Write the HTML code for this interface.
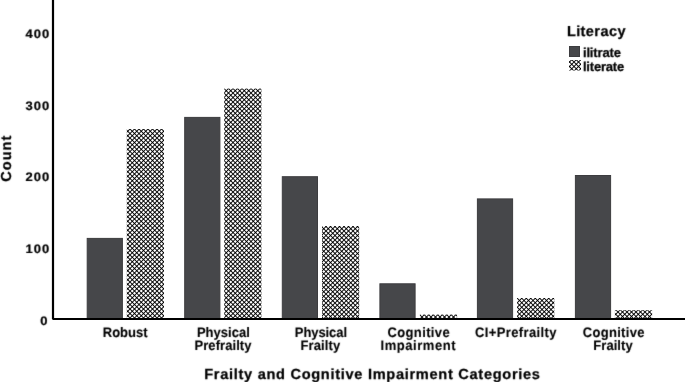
<!DOCTYPE html>
<html><head><meta charset="utf-8">
<style>
html,body{margin:0;padding:0;background:#fff;width:685px;height:382px;overflow:hidden}
svg{display:block}
text{font-family:"Liberation Sans",Arial,Helvetica,sans-serif;font-weight:bold;fill:#000;stroke:#000;text-rendering:geometricPrecision;stroke-width:0.25px}
</style></head>
<body>
<svg width="685" height="382" viewBox="0 0 685 382">
<defs>
</defs>
<g fill="#46474a" stroke="#3c3c3f" stroke-width="1">
<rect x="87.20" y="238.40" width="35.20" height="80.10"/>
<rect x="184.70" y="117.40" width="35.20" height="201.10"/>
<rect x="282.30" y="176.70" width="35.20" height="141.80"/>
<rect x="379.90" y="283.80" width="35.20" height="34.70"/>
<rect x="477.40" y="198.90" width="35.20" height="119.60"/>
<rect x="575.40" y="175.50" width="35.20" height="143.00"/>
</g>
<pattern id="p0" patternUnits="userSpaceOnUse" x="130" y="129" width="9" height="9"><rect width="9" height="9" fill="#fff"/><rect x="0" y="0" width="1" height="1" fill="#1e1e1e"/><rect x="1" y="0" width="1" height="1" fill="#c8c8c8"/><rect x="2" y="0" width="1" height="1" fill="#fcfcfc"/><rect x="3" y="0" width="1" height="1" fill="#5b5b5b"/><rect x="4" y="0" width="1" height="1" fill="#1e1e1e"/><rect x="5" y="0" width="1" height="1" fill="#5b5b5b"/><rect x="6" y="0" width="1" height="1" fill="#fcfcfc"/><rect x="7" y="0" width="1" height="1" fill="#c8c8c8"/><rect x="8" y="0" width="1" height="1" fill="#1e1e1e"/><rect x="0" y="1" width="1" height="1" fill="#c8c8c8"/><rect x="1" y="1" width="1" height="1" fill="#1e1e1e"/><rect x="2" y="1" width="1" height="1" fill="#4b4b4b"/><rect x="3" y="1" width="1" height="1" fill="#5b5b5b"/><rect x="4" y="1" width="1" height="1" fill="#f9f9f9"/><rect x="5" y="1" width="1" height="1" fill="#5b5b5b"/><rect x="6" y="1" width="1" height="1" fill="#4b4b4b"/><rect x="7" y="1" width="1" height="1" fill="#1e1e1e"/><rect x="8" y="1" width="1" height="1" fill="#c8c8c8"/><rect x="0" y="2" width="1" height="1" fill="#fcfcfc"/><rect x="1" y="2" width="1" height="1" fill="#4b4b4b"/><rect x="2" y="2" width="1" height="1" fill="#040404"/><rect x="3" y="2" width="1" height="1" fill="#c5c5c5"/><rect x="5" y="2" width="1" height="1" fill="#c5c5c5"/><rect x="6" y="2" width="1" height="1" fill="#040404"/><rect x="7" y="2" width="1" height="1" fill="#4b4b4b"/><rect x="8" y="2" width="1" height="1" fill="#fcfcfc"/><rect x="0" y="3" width="1" height="1" fill="#5b5b5b"/><rect x="1" y="3" width="1" height="1" fill="#5b5b5b"/><rect x="2" y="3" width="1" height="1" fill="#c5c5c5"/><rect x="3" y="3" width="1" height="1" fill="#1e1e1e"/><rect x="4" y="3" width="1" height="1" fill="#979797"/><rect x="5" y="3" width="1" height="1" fill="#1e1e1e"/><rect x="6" y="3" width="1" height="1" fill="#c5c5c5"/><rect x="7" y="3" width="1" height="1" fill="#5b5b5b"/><rect x="8" y="3" width="1" height="1" fill="#5b5b5b"/><rect x="0" y="4" width="1" height="1" fill="#1e1e1e"/><rect x="1" y="4" width="1" height="1" fill="#f9f9f9"/><rect x="3" y="4" width="1" height="1" fill="#979797"/><rect x="4" y="4" width="1" height="1" fill="#000000"/><rect x="5" y="4" width="1" height="1" fill="#979797"/><rect x="7" y="4" width="1" height="1" fill="#f9f9f9"/><rect x="8" y="4" width="1" height="1" fill="#1e1e1e"/><rect x="0" y="5" width="1" height="1" fill="#5b5b5b"/><rect x="1" y="5" width="1" height="1" fill="#5b5b5b"/><rect x="2" y="5" width="1" height="1" fill="#c5c5c5"/><rect x="3" y="5" width="1" height="1" fill="#1e1e1e"/><rect x="4" y="5" width="1" height="1" fill="#979797"/><rect x="5" y="5" width="1" height="1" fill="#1e1e1e"/><rect x="6" y="5" width="1" height="1" fill="#c5c5c5"/><rect x="7" y="5" width="1" height="1" fill="#5b5b5b"/><rect x="8" y="5" width="1" height="1" fill="#5b5b5b"/><rect x="0" y="6" width="1" height="1" fill="#fcfcfc"/><rect x="1" y="6" width="1" height="1" fill="#4b4b4b"/><rect x="2" y="6" width="1" height="1" fill="#040404"/><rect x="3" y="6" width="1" height="1" fill="#c5c5c5"/><rect x="5" y="6" width="1" height="1" fill="#c5c5c5"/><rect x="6" y="6" width="1" height="1" fill="#040404"/><rect x="7" y="6" width="1" height="1" fill="#4b4b4b"/><rect x="8" y="6" width="1" height="1" fill="#fcfcfc"/><rect x="0" y="7" width="1" height="1" fill="#c8c8c8"/><rect x="1" y="7" width="1" height="1" fill="#1e1e1e"/><rect x="2" y="7" width="1" height="1" fill="#4b4b4b"/><rect x="3" y="7" width="1" height="1" fill="#5b5b5b"/><rect x="4" y="7" width="1" height="1" fill="#f9f9f9"/><rect x="5" y="7" width="1" height="1" fill="#5b5b5b"/><rect x="6" y="7" width="1" height="1" fill="#4b4b4b"/><rect x="7" y="7" width="1" height="1" fill="#1e1e1e"/><rect x="8" y="7" width="1" height="1" fill="#c8c8c8"/><rect x="0" y="8" width="1" height="1" fill="#1e1e1e"/><rect x="1" y="8" width="1" height="1" fill="#c8c8c8"/><rect x="2" y="8" width="1" height="1" fill="#fcfcfc"/><rect x="3" y="8" width="1" height="1" fill="#5b5b5b"/><rect x="4" y="8" width="1" height="1" fill="#1e1e1e"/><rect x="5" y="8" width="1" height="1" fill="#5b5b5b"/><rect x="6" y="8" width="1" height="1" fill="#fcfcfc"/><rect x="7" y="8" width="1" height="1" fill="#c8c8c8"/><rect x="8" y="8" width="1" height="1" fill="#1e1e1e"/></pattern>
<rect x="126.80" y="129.00" width="37.20" height="189.50" fill="url(#p0)"/>
<pattern id="p1" patternUnits="userSpaceOnUse" x="224" y="93" width="9" height="9"><rect width="9" height="9" fill="#fff"/><rect x="0" y="0" width="1" height="1" fill="#1e1e1e"/><rect x="1" y="0" width="1" height="1" fill="#c8c8c8"/><rect x="2" y="0" width="1" height="1" fill="#fcfcfc"/><rect x="3" y="0" width="1" height="1" fill="#5b5b5b"/><rect x="4" y="0" width="1" height="1" fill="#1e1e1e"/><rect x="5" y="0" width="1" height="1" fill="#5b5b5b"/><rect x="6" y="0" width="1" height="1" fill="#fcfcfc"/><rect x="7" y="0" width="1" height="1" fill="#c8c8c8"/><rect x="8" y="0" width="1" height="1" fill="#1e1e1e"/><rect x="0" y="1" width="1" height="1" fill="#c8c8c8"/><rect x="1" y="1" width="1" height="1" fill="#1e1e1e"/><rect x="2" y="1" width="1" height="1" fill="#4b4b4b"/><rect x="3" y="1" width="1" height="1" fill="#5b5b5b"/><rect x="4" y="1" width="1" height="1" fill="#f9f9f9"/><rect x="5" y="1" width="1" height="1" fill="#5b5b5b"/><rect x="6" y="1" width="1" height="1" fill="#4b4b4b"/><rect x="7" y="1" width="1" height="1" fill="#1e1e1e"/><rect x="8" y="1" width="1" height="1" fill="#c8c8c8"/><rect x="0" y="2" width="1" height="1" fill="#fcfcfc"/><rect x="1" y="2" width="1" height="1" fill="#4b4b4b"/><rect x="2" y="2" width="1" height="1" fill="#040404"/><rect x="3" y="2" width="1" height="1" fill="#c5c5c5"/><rect x="5" y="2" width="1" height="1" fill="#c5c5c5"/><rect x="6" y="2" width="1" height="1" fill="#040404"/><rect x="7" y="2" width="1" height="1" fill="#4b4b4b"/><rect x="8" y="2" width="1" height="1" fill="#fcfcfc"/><rect x="0" y="3" width="1" height="1" fill="#5b5b5b"/><rect x="1" y="3" width="1" height="1" fill="#5b5b5b"/><rect x="2" y="3" width="1" height="1" fill="#c5c5c5"/><rect x="3" y="3" width="1" height="1" fill="#1e1e1e"/><rect x="4" y="3" width="1" height="1" fill="#979797"/><rect x="5" y="3" width="1" height="1" fill="#1e1e1e"/><rect x="6" y="3" width="1" height="1" fill="#c5c5c5"/><rect x="7" y="3" width="1" height="1" fill="#5b5b5b"/><rect x="8" y="3" width="1" height="1" fill="#5b5b5b"/><rect x="0" y="4" width="1" height="1" fill="#1e1e1e"/><rect x="1" y="4" width="1" height="1" fill="#f9f9f9"/><rect x="3" y="4" width="1" height="1" fill="#979797"/><rect x="4" y="4" width="1" height="1" fill="#000000"/><rect x="5" y="4" width="1" height="1" fill="#979797"/><rect x="7" y="4" width="1" height="1" fill="#f9f9f9"/><rect x="8" y="4" width="1" height="1" fill="#1e1e1e"/><rect x="0" y="5" width="1" height="1" fill="#5b5b5b"/><rect x="1" y="5" width="1" height="1" fill="#5b5b5b"/><rect x="2" y="5" width="1" height="1" fill="#c5c5c5"/><rect x="3" y="5" width="1" height="1" fill="#1e1e1e"/><rect x="4" y="5" width="1" height="1" fill="#979797"/><rect x="5" y="5" width="1" height="1" fill="#1e1e1e"/><rect x="6" y="5" width="1" height="1" fill="#c5c5c5"/><rect x="7" y="5" width="1" height="1" fill="#5b5b5b"/><rect x="8" y="5" width="1" height="1" fill="#5b5b5b"/><rect x="0" y="6" width="1" height="1" fill="#fcfcfc"/><rect x="1" y="6" width="1" height="1" fill="#4b4b4b"/><rect x="2" y="6" width="1" height="1" fill="#040404"/><rect x="3" y="6" width="1" height="1" fill="#c5c5c5"/><rect x="5" y="6" width="1" height="1" fill="#c5c5c5"/><rect x="6" y="6" width="1" height="1" fill="#040404"/><rect x="7" y="6" width="1" height="1" fill="#4b4b4b"/><rect x="8" y="6" width="1" height="1" fill="#fcfcfc"/><rect x="0" y="7" width="1" height="1" fill="#c8c8c8"/><rect x="1" y="7" width="1" height="1" fill="#1e1e1e"/><rect x="2" y="7" width="1" height="1" fill="#4b4b4b"/><rect x="3" y="7" width="1" height="1" fill="#5b5b5b"/><rect x="4" y="7" width="1" height="1" fill="#f9f9f9"/><rect x="5" y="7" width="1" height="1" fill="#5b5b5b"/><rect x="6" y="7" width="1" height="1" fill="#4b4b4b"/><rect x="7" y="7" width="1" height="1" fill="#1e1e1e"/><rect x="8" y="7" width="1" height="1" fill="#c8c8c8"/><rect x="0" y="8" width="1" height="1" fill="#1e1e1e"/><rect x="1" y="8" width="1" height="1" fill="#c8c8c8"/><rect x="2" y="8" width="1" height="1" fill="#fcfcfc"/><rect x="3" y="8" width="1" height="1" fill="#5b5b5b"/><rect x="4" y="8" width="1" height="1" fill="#1e1e1e"/><rect x="5" y="8" width="1" height="1" fill="#5b5b5b"/><rect x="6" y="8" width="1" height="1" fill="#fcfcfc"/><rect x="7" y="8" width="1" height="1" fill="#c8c8c8"/><rect x="8" y="8" width="1" height="1" fill="#1e1e1e"/></pattern>
<rect x="224.20" y="88.60" width="37.20" height="229.90" fill="url(#p1)"/>
<pattern id="p2" patternUnits="userSpaceOnUse" x="326" y="231" width="9" height="9"><rect width="9" height="9" fill="#fff"/><rect x="0" y="0" width="1" height="1" fill="#1e1e1e"/><rect x="1" y="0" width="1" height="1" fill="#c8c8c8"/><rect x="2" y="0" width="1" height="1" fill="#fcfcfc"/><rect x="3" y="0" width="1" height="1" fill="#5b5b5b"/><rect x="4" y="0" width="1" height="1" fill="#1e1e1e"/><rect x="5" y="0" width="1" height="1" fill="#5b5b5b"/><rect x="6" y="0" width="1" height="1" fill="#fcfcfc"/><rect x="7" y="0" width="1" height="1" fill="#c8c8c8"/><rect x="8" y="0" width="1" height="1" fill="#1e1e1e"/><rect x="0" y="1" width="1" height="1" fill="#c8c8c8"/><rect x="1" y="1" width="1" height="1" fill="#1e1e1e"/><rect x="2" y="1" width="1" height="1" fill="#4b4b4b"/><rect x="3" y="1" width="1" height="1" fill="#5b5b5b"/><rect x="4" y="1" width="1" height="1" fill="#f9f9f9"/><rect x="5" y="1" width="1" height="1" fill="#5b5b5b"/><rect x="6" y="1" width="1" height="1" fill="#4b4b4b"/><rect x="7" y="1" width="1" height="1" fill="#1e1e1e"/><rect x="8" y="1" width="1" height="1" fill="#c8c8c8"/><rect x="0" y="2" width="1" height="1" fill="#fcfcfc"/><rect x="1" y="2" width="1" height="1" fill="#4b4b4b"/><rect x="2" y="2" width="1" height="1" fill="#040404"/><rect x="3" y="2" width="1" height="1" fill="#c5c5c5"/><rect x="5" y="2" width="1" height="1" fill="#c5c5c5"/><rect x="6" y="2" width="1" height="1" fill="#040404"/><rect x="7" y="2" width="1" height="1" fill="#4b4b4b"/><rect x="8" y="2" width="1" height="1" fill="#fcfcfc"/><rect x="0" y="3" width="1" height="1" fill="#5b5b5b"/><rect x="1" y="3" width="1" height="1" fill="#5b5b5b"/><rect x="2" y="3" width="1" height="1" fill="#c5c5c5"/><rect x="3" y="3" width="1" height="1" fill="#1e1e1e"/><rect x="4" y="3" width="1" height="1" fill="#979797"/><rect x="5" y="3" width="1" height="1" fill="#1e1e1e"/><rect x="6" y="3" width="1" height="1" fill="#c5c5c5"/><rect x="7" y="3" width="1" height="1" fill="#5b5b5b"/><rect x="8" y="3" width="1" height="1" fill="#5b5b5b"/><rect x="0" y="4" width="1" height="1" fill="#1e1e1e"/><rect x="1" y="4" width="1" height="1" fill="#f9f9f9"/><rect x="3" y="4" width="1" height="1" fill="#979797"/><rect x="4" y="4" width="1" height="1" fill="#000000"/><rect x="5" y="4" width="1" height="1" fill="#979797"/><rect x="7" y="4" width="1" height="1" fill="#f9f9f9"/><rect x="8" y="4" width="1" height="1" fill="#1e1e1e"/><rect x="0" y="5" width="1" height="1" fill="#5b5b5b"/><rect x="1" y="5" width="1" height="1" fill="#5b5b5b"/><rect x="2" y="5" width="1" height="1" fill="#c5c5c5"/><rect x="3" y="5" width="1" height="1" fill="#1e1e1e"/><rect x="4" y="5" width="1" height="1" fill="#979797"/><rect x="5" y="5" width="1" height="1" fill="#1e1e1e"/><rect x="6" y="5" width="1" height="1" fill="#c5c5c5"/><rect x="7" y="5" width="1" height="1" fill="#5b5b5b"/><rect x="8" y="5" width="1" height="1" fill="#5b5b5b"/><rect x="0" y="6" width="1" height="1" fill="#fcfcfc"/><rect x="1" y="6" width="1" height="1" fill="#4b4b4b"/><rect x="2" y="6" width="1" height="1" fill="#040404"/><rect x="3" y="6" width="1" height="1" fill="#c5c5c5"/><rect x="5" y="6" width="1" height="1" fill="#c5c5c5"/><rect x="6" y="6" width="1" height="1" fill="#040404"/><rect x="7" y="6" width="1" height="1" fill="#4b4b4b"/><rect x="8" y="6" width="1" height="1" fill="#fcfcfc"/><rect x="0" y="7" width="1" height="1" fill="#c8c8c8"/><rect x="1" y="7" width="1" height="1" fill="#1e1e1e"/><rect x="2" y="7" width="1" height="1" fill="#4b4b4b"/><rect x="3" y="7" width="1" height="1" fill="#5b5b5b"/><rect x="4" y="7" width="1" height="1" fill="#f9f9f9"/><rect x="5" y="7" width="1" height="1" fill="#5b5b5b"/><rect x="6" y="7" width="1" height="1" fill="#4b4b4b"/><rect x="7" y="7" width="1" height="1" fill="#1e1e1e"/><rect x="8" y="7" width="1" height="1" fill="#c8c8c8"/><rect x="0" y="8" width="1" height="1" fill="#1e1e1e"/><rect x="1" y="8" width="1" height="1" fill="#c8c8c8"/><rect x="2" y="8" width="1" height="1" fill="#fcfcfc"/><rect x="3" y="8" width="1" height="1" fill="#5b5b5b"/><rect x="4" y="8" width="1" height="1" fill="#1e1e1e"/><rect x="5" y="8" width="1" height="1" fill="#5b5b5b"/><rect x="6" y="8" width="1" height="1" fill="#fcfcfc"/><rect x="7" y="8" width="1" height="1" fill="#c8c8c8"/><rect x="8" y="8" width="1" height="1" fill="#1e1e1e"/></pattern>
<rect x="322.00" y="226.00" width="37.20" height="92.50" fill="url(#p2)"/>
<pattern id="p3" patternUnits="userSpaceOnUse" x="422" y="317" width="9" height="9"><rect width="9" height="9" fill="#fff"/><rect x="0" y="0" width="1" height="1" fill="#1e1e1e"/><rect x="1" y="0" width="1" height="1" fill="#c8c8c8"/><rect x="2" y="0" width="1" height="1" fill="#fcfcfc"/><rect x="3" y="0" width="1" height="1" fill="#5b5b5b"/><rect x="4" y="0" width="1" height="1" fill="#1e1e1e"/><rect x="5" y="0" width="1" height="1" fill="#5b5b5b"/><rect x="6" y="0" width="1" height="1" fill="#fcfcfc"/><rect x="7" y="0" width="1" height="1" fill="#c8c8c8"/><rect x="8" y="0" width="1" height="1" fill="#1e1e1e"/><rect x="0" y="1" width="1" height="1" fill="#c8c8c8"/><rect x="1" y="1" width="1" height="1" fill="#1e1e1e"/><rect x="2" y="1" width="1" height="1" fill="#4b4b4b"/><rect x="3" y="1" width="1" height="1" fill="#5b5b5b"/><rect x="4" y="1" width="1" height="1" fill="#f9f9f9"/><rect x="5" y="1" width="1" height="1" fill="#5b5b5b"/><rect x="6" y="1" width="1" height="1" fill="#4b4b4b"/><rect x="7" y="1" width="1" height="1" fill="#1e1e1e"/><rect x="8" y="1" width="1" height="1" fill="#c8c8c8"/><rect x="0" y="2" width="1" height="1" fill="#fcfcfc"/><rect x="1" y="2" width="1" height="1" fill="#4b4b4b"/><rect x="2" y="2" width="1" height="1" fill="#040404"/><rect x="3" y="2" width="1" height="1" fill="#c5c5c5"/><rect x="5" y="2" width="1" height="1" fill="#c5c5c5"/><rect x="6" y="2" width="1" height="1" fill="#040404"/><rect x="7" y="2" width="1" height="1" fill="#4b4b4b"/><rect x="8" y="2" width="1" height="1" fill="#fcfcfc"/><rect x="0" y="3" width="1" height="1" fill="#5b5b5b"/><rect x="1" y="3" width="1" height="1" fill="#5b5b5b"/><rect x="2" y="3" width="1" height="1" fill="#c5c5c5"/><rect x="3" y="3" width="1" height="1" fill="#1e1e1e"/><rect x="4" y="3" width="1" height="1" fill="#979797"/><rect x="5" y="3" width="1" height="1" fill="#1e1e1e"/><rect x="6" y="3" width="1" height="1" fill="#c5c5c5"/><rect x="7" y="3" width="1" height="1" fill="#5b5b5b"/><rect x="8" y="3" width="1" height="1" fill="#5b5b5b"/><rect x="0" y="4" width="1" height="1" fill="#1e1e1e"/><rect x="1" y="4" width="1" height="1" fill="#f9f9f9"/><rect x="3" y="4" width="1" height="1" fill="#979797"/><rect x="4" y="4" width="1" height="1" fill="#000000"/><rect x="5" y="4" width="1" height="1" fill="#979797"/><rect x="7" y="4" width="1" height="1" fill="#f9f9f9"/><rect x="8" y="4" width="1" height="1" fill="#1e1e1e"/><rect x="0" y="5" width="1" height="1" fill="#5b5b5b"/><rect x="1" y="5" width="1" height="1" fill="#5b5b5b"/><rect x="2" y="5" width="1" height="1" fill="#c5c5c5"/><rect x="3" y="5" width="1" height="1" fill="#1e1e1e"/><rect x="4" y="5" width="1" height="1" fill="#979797"/><rect x="5" y="5" width="1" height="1" fill="#1e1e1e"/><rect x="6" y="5" width="1" height="1" fill="#c5c5c5"/><rect x="7" y="5" width="1" height="1" fill="#5b5b5b"/><rect x="8" y="5" width="1" height="1" fill="#5b5b5b"/><rect x="0" y="6" width="1" height="1" fill="#fcfcfc"/><rect x="1" y="6" width="1" height="1" fill="#4b4b4b"/><rect x="2" y="6" width="1" height="1" fill="#040404"/><rect x="3" y="6" width="1" height="1" fill="#c5c5c5"/><rect x="5" y="6" width="1" height="1" fill="#c5c5c5"/><rect x="6" y="6" width="1" height="1" fill="#040404"/><rect x="7" y="6" width="1" height="1" fill="#4b4b4b"/><rect x="8" y="6" width="1" height="1" fill="#fcfcfc"/><rect x="0" y="7" width="1" height="1" fill="#c8c8c8"/><rect x="1" y="7" width="1" height="1" fill="#1e1e1e"/><rect x="2" y="7" width="1" height="1" fill="#4b4b4b"/><rect x="3" y="7" width="1" height="1" fill="#5b5b5b"/><rect x="4" y="7" width="1" height="1" fill="#f9f9f9"/><rect x="5" y="7" width="1" height="1" fill="#5b5b5b"/><rect x="6" y="7" width="1" height="1" fill="#4b4b4b"/><rect x="7" y="7" width="1" height="1" fill="#1e1e1e"/><rect x="8" y="7" width="1" height="1" fill="#c8c8c8"/><rect x="0" y="8" width="1" height="1" fill="#1e1e1e"/><rect x="1" y="8" width="1" height="1" fill="#c8c8c8"/><rect x="2" y="8" width="1" height="1" fill="#fcfcfc"/><rect x="3" y="8" width="1" height="1" fill="#5b5b5b"/><rect x="4" y="8" width="1" height="1" fill="#1e1e1e"/><rect x="5" y="8" width="1" height="1" fill="#5b5b5b"/><rect x="6" y="8" width="1" height="1" fill="#fcfcfc"/><rect x="7" y="8" width="1" height="1" fill="#c8c8c8"/><rect x="8" y="8" width="1" height="1" fill="#1e1e1e"/></pattern>
<rect x="419.90" y="314.60" width="37.20" height="3.90" fill="url(#p3)"/>
<pattern id="p4" patternUnits="userSpaceOnUse" x="515" y="296" width="9" height="9"><rect width="9" height="9" fill="#fff"/><rect x="0" y="0" width="1" height="1" fill="#1e1e1e"/><rect x="1" y="0" width="1" height="1" fill="#c8c8c8"/><rect x="2" y="0" width="1" height="1" fill="#fcfcfc"/><rect x="3" y="0" width="1" height="1" fill="#5b5b5b"/><rect x="4" y="0" width="1" height="1" fill="#1e1e1e"/><rect x="5" y="0" width="1" height="1" fill="#5b5b5b"/><rect x="6" y="0" width="1" height="1" fill="#fcfcfc"/><rect x="7" y="0" width="1" height="1" fill="#c8c8c8"/><rect x="8" y="0" width="1" height="1" fill="#1e1e1e"/><rect x="0" y="1" width="1" height="1" fill="#c8c8c8"/><rect x="1" y="1" width="1" height="1" fill="#1e1e1e"/><rect x="2" y="1" width="1" height="1" fill="#4b4b4b"/><rect x="3" y="1" width="1" height="1" fill="#5b5b5b"/><rect x="4" y="1" width="1" height="1" fill="#f9f9f9"/><rect x="5" y="1" width="1" height="1" fill="#5b5b5b"/><rect x="6" y="1" width="1" height="1" fill="#4b4b4b"/><rect x="7" y="1" width="1" height="1" fill="#1e1e1e"/><rect x="8" y="1" width="1" height="1" fill="#c8c8c8"/><rect x="0" y="2" width="1" height="1" fill="#fcfcfc"/><rect x="1" y="2" width="1" height="1" fill="#4b4b4b"/><rect x="2" y="2" width="1" height="1" fill="#040404"/><rect x="3" y="2" width="1" height="1" fill="#c5c5c5"/><rect x="5" y="2" width="1" height="1" fill="#c5c5c5"/><rect x="6" y="2" width="1" height="1" fill="#040404"/><rect x="7" y="2" width="1" height="1" fill="#4b4b4b"/><rect x="8" y="2" width="1" height="1" fill="#fcfcfc"/><rect x="0" y="3" width="1" height="1" fill="#5b5b5b"/><rect x="1" y="3" width="1" height="1" fill="#5b5b5b"/><rect x="2" y="3" width="1" height="1" fill="#c5c5c5"/><rect x="3" y="3" width="1" height="1" fill="#1e1e1e"/><rect x="4" y="3" width="1" height="1" fill="#979797"/><rect x="5" y="3" width="1" height="1" fill="#1e1e1e"/><rect x="6" y="3" width="1" height="1" fill="#c5c5c5"/><rect x="7" y="3" width="1" height="1" fill="#5b5b5b"/><rect x="8" y="3" width="1" height="1" fill="#5b5b5b"/><rect x="0" y="4" width="1" height="1" fill="#1e1e1e"/><rect x="1" y="4" width="1" height="1" fill="#f9f9f9"/><rect x="3" y="4" width="1" height="1" fill="#979797"/><rect x="4" y="4" width="1" height="1" fill="#000000"/><rect x="5" y="4" width="1" height="1" fill="#979797"/><rect x="7" y="4" width="1" height="1" fill="#f9f9f9"/><rect x="8" y="4" width="1" height="1" fill="#1e1e1e"/><rect x="0" y="5" width="1" height="1" fill="#5b5b5b"/><rect x="1" y="5" width="1" height="1" fill="#5b5b5b"/><rect x="2" y="5" width="1" height="1" fill="#c5c5c5"/><rect x="3" y="5" width="1" height="1" fill="#1e1e1e"/><rect x="4" y="5" width="1" height="1" fill="#979797"/><rect x="5" y="5" width="1" height="1" fill="#1e1e1e"/><rect x="6" y="5" width="1" height="1" fill="#c5c5c5"/><rect x="7" y="5" width="1" height="1" fill="#5b5b5b"/><rect x="8" y="5" width="1" height="1" fill="#5b5b5b"/><rect x="0" y="6" width="1" height="1" fill="#fcfcfc"/><rect x="1" y="6" width="1" height="1" fill="#4b4b4b"/><rect x="2" y="6" width="1" height="1" fill="#040404"/><rect x="3" y="6" width="1" height="1" fill="#c5c5c5"/><rect x="5" y="6" width="1" height="1" fill="#c5c5c5"/><rect x="6" y="6" width="1" height="1" fill="#040404"/><rect x="7" y="6" width="1" height="1" fill="#4b4b4b"/><rect x="8" y="6" width="1" height="1" fill="#fcfcfc"/><rect x="0" y="7" width="1" height="1" fill="#c8c8c8"/><rect x="1" y="7" width="1" height="1" fill="#1e1e1e"/><rect x="2" y="7" width="1" height="1" fill="#4b4b4b"/><rect x="3" y="7" width="1" height="1" fill="#5b5b5b"/><rect x="4" y="7" width="1" height="1" fill="#f9f9f9"/><rect x="5" y="7" width="1" height="1" fill="#5b5b5b"/><rect x="6" y="7" width="1" height="1" fill="#4b4b4b"/><rect x="7" y="7" width="1" height="1" fill="#1e1e1e"/><rect x="8" y="7" width="1" height="1" fill="#c8c8c8"/><rect x="0" y="8" width="1" height="1" fill="#1e1e1e"/><rect x="1" y="8" width="1" height="1" fill="#c8c8c8"/><rect x="2" y="8" width="1" height="1" fill="#fcfcfc"/><rect x="3" y="8" width="1" height="1" fill="#5b5b5b"/><rect x="4" y="8" width="1" height="1" fill="#1e1e1e"/><rect x="5" y="8" width="1" height="1" fill="#5b5b5b"/><rect x="6" y="8" width="1" height="1" fill="#fcfcfc"/><rect x="7" y="8" width="1" height="1" fill="#c8c8c8"/><rect x="8" y="8" width="1" height="1" fill="#1e1e1e"/></pattern>
<rect x="517.10" y="298.00" width="37.20" height="20.50" fill="url(#p4)"/>
<pattern id="p5" patternUnits="userSpaceOnUse" x="618" y="312" width="9" height="9"><rect width="9" height="9" fill="#fff"/><rect x="0" y="0" width="1" height="1" fill="#1e1e1e"/><rect x="1" y="0" width="1" height="1" fill="#c8c8c8"/><rect x="2" y="0" width="1" height="1" fill="#fcfcfc"/><rect x="3" y="0" width="1" height="1" fill="#5b5b5b"/><rect x="4" y="0" width="1" height="1" fill="#1e1e1e"/><rect x="5" y="0" width="1" height="1" fill="#5b5b5b"/><rect x="6" y="0" width="1" height="1" fill="#fcfcfc"/><rect x="7" y="0" width="1" height="1" fill="#c8c8c8"/><rect x="8" y="0" width="1" height="1" fill="#1e1e1e"/><rect x="0" y="1" width="1" height="1" fill="#c8c8c8"/><rect x="1" y="1" width="1" height="1" fill="#1e1e1e"/><rect x="2" y="1" width="1" height="1" fill="#4b4b4b"/><rect x="3" y="1" width="1" height="1" fill="#5b5b5b"/><rect x="4" y="1" width="1" height="1" fill="#f9f9f9"/><rect x="5" y="1" width="1" height="1" fill="#5b5b5b"/><rect x="6" y="1" width="1" height="1" fill="#4b4b4b"/><rect x="7" y="1" width="1" height="1" fill="#1e1e1e"/><rect x="8" y="1" width="1" height="1" fill="#c8c8c8"/><rect x="0" y="2" width="1" height="1" fill="#fcfcfc"/><rect x="1" y="2" width="1" height="1" fill="#4b4b4b"/><rect x="2" y="2" width="1" height="1" fill="#040404"/><rect x="3" y="2" width="1" height="1" fill="#c5c5c5"/><rect x="5" y="2" width="1" height="1" fill="#c5c5c5"/><rect x="6" y="2" width="1" height="1" fill="#040404"/><rect x="7" y="2" width="1" height="1" fill="#4b4b4b"/><rect x="8" y="2" width="1" height="1" fill="#fcfcfc"/><rect x="0" y="3" width="1" height="1" fill="#5b5b5b"/><rect x="1" y="3" width="1" height="1" fill="#5b5b5b"/><rect x="2" y="3" width="1" height="1" fill="#c5c5c5"/><rect x="3" y="3" width="1" height="1" fill="#1e1e1e"/><rect x="4" y="3" width="1" height="1" fill="#979797"/><rect x="5" y="3" width="1" height="1" fill="#1e1e1e"/><rect x="6" y="3" width="1" height="1" fill="#c5c5c5"/><rect x="7" y="3" width="1" height="1" fill="#5b5b5b"/><rect x="8" y="3" width="1" height="1" fill="#5b5b5b"/><rect x="0" y="4" width="1" height="1" fill="#1e1e1e"/><rect x="1" y="4" width="1" height="1" fill="#f9f9f9"/><rect x="3" y="4" width="1" height="1" fill="#979797"/><rect x="4" y="4" width="1" height="1" fill="#000000"/><rect x="5" y="4" width="1" height="1" fill="#979797"/><rect x="7" y="4" width="1" height="1" fill="#f9f9f9"/><rect x="8" y="4" width="1" height="1" fill="#1e1e1e"/><rect x="0" y="5" width="1" height="1" fill="#5b5b5b"/><rect x="1" y="5" width="1" height="1" fill="#5b5b5b"/><rect x="2" y="5" width="1" height="1" fill="#c5c5c5"/><rect x="3" y="5" width="1" height="1" fill="#1e1e1e"/><rect x="4" y="5" width="1" height="1" fill="#979797"/><rect x="5" y="5" width="1" height="1" fill="#1e1e1e"/><rect x="6" y="5" width="1" height="1" fill="#c5c5c5"/><rect x="7" y="5" width="1" height="1" fill="#5b5b5b"/><rect x="8" y="5" width="1" height="1" fill="#5b5b5b"/><rect x="0" y="6" width="1" height="1" fill="#fcfcfc"/><rect x="1" y="6" width="1" height="1" fill="#4b4b4b"/><rect x="2" y="6" width="1" height="1" fill="#040404"/><rect x="3" y="6" width="1" height="1" fill="#c5c5c5"/><rect x="5" y="6" width="1" height="1" fill="#c5c5c5"/><rect x="6" y="6" width="1" height="1" fill="#040404"/><rect x="7" y="6" width="1" height="1" fill="#4b4b4b"/><rect x="8" y="6" width="1" height="1" fill="#fcfcfc"/><rect x="0" y="7" width="1" height="1" fill="#c8c8c8"/><rect x="1" y="7" width="1" height="1" fill="#1e1e1e"/><rect x="2" y="7" width="1" height="1" fill="#4b4b4b"/><rect x="3" y="7" width="1" height="1" fill="#5b5b5b"/><rect x="4" y="7" width="1" height="1" fill="#f9f9f9"/><rect x="5" y="7" width="1" height="1" fill="#5b5b5b"/><rect x="6" y="7" width="1" height="1" fill="#4b4b4b"/><rect x="7" y="7" width="1" height="1" fill="#1e1e1e"/><rect x="8" y="7" width="1" height="1" fill="#c8c8c8"/><rect x="0" y="8" width="1" height="1" fill="#1e1e1e"/><rect x="1" y="8" width="1" height="1" fill="#c8c8c8"/><rect x="2" y="8" width="1" height="1" fill="#fcfcfc"/><rect x="3" y="8" width="1" height="1" fill="#5b5b5b"/><rect x="4" y="8" width="1" height="1" fill="#1e1e1e"/><rect x="5" y="8" width="1" height="1" fill="#5b5b5b"/><rect x="6" y="8" width="1" height="1" fill="#fcfcfc"/><rect x="7" y="8" width="1" height="1" fill="#c8c8c8"/><rect x="8" y="8" width="1" height="1" fill="#1e1e1e"/></pattern>
<rect x="614.90" y="310.20" width="37.20" height="8.30" fill="url(#p5)"/>
<polyline points="53,0 53,319.0 685,319.0" fill="none" stroke="#000" stroke-width="2.2" stroke-linejoin="bevel"/>
<filter id="tb" filterUnits="userSpaceOnUse" x="0" y="0" width="685" height="382" color-interpolation-filters="sRGB"><feConvolveMatrix order="3" kernelMatrix="0.0100 0.0800 0.0100 0.0800 0.6400 0.0800 0.0100 0.0800 0.0100" edgeMode="none" preserveAlpha="false"/></filter>
<g filter="url(#tb)">
<text transform="translate(50.4,37.7) scale(1,0.94)" font-size="13" text-anchor="end" letter-spacing="1.1">400</text>
<text transform="translate(50.4,109.6) scale(1,0.94)" font-size="13" text-anchor="end" letter-spacing="1.1">300</text>
<text transform="translate(50.4,181.1) scale(1,0.94)" font-size="13" text-anchor="end" letter-spacing="1.1">200</text>
<text transform="translate(50.4,252.9) scale(1,0.94)" font-size="13" text-anchor="end" letter-spacing="1.1">100</text>
<text transform="translate(48.7,324.9) scale(1,0.94)" font-size="13" text-anchor="end" letter-spacing="1.1">0</text>
<text transform="translate(125.14,336.6) scale(1,1.06)" font-size="13" text-anchor="middle" textLength="44.78" lengthAdjust="spacing" style="stroke-width:0.12px">Robust</text>
<text transform="translate(223.33,336.6) scale(1,1.06)" font-size="13" text-anchor="middle" textLength="52.85" lengthAdjust="spacing" style="stroke-width:0.12px">Physical</text>
<text transform="translate(222.98,350.0) scale(1,1.06)" font-size="13" text-anchor="middle" textLength="56.95" lengthAdjust="spacing" style="stroke-width:0.12px">Prefrailty</text>
<text transform="translate(320.91,336.6) scale(1,1.06)" font-size="13" text-anchor="middle" textLength="52.22" lengthAdjust="spacing" style="stroke-width:0.12px">Physical</text>
<text transform="translate(320.33,350.0) scale(1,1.06)" font-size="13" text-anchor="middle" textLength="39.75" lengthAdjust="spacing" style="stroke-width:0.12px">Frailty</text>
<text transform="translate(418.55,336.6) scale(1,1.06)" font-size="13" text-anchor="middle" textLength="62.27" lengthAdjust="spacing" style="stroke-width:0.12px">Cognitive</text>
<text transform="translate(418.0,350.0) scale(1,1.06)" font-size="13" text-anchor="middle" textLength="74.99" lengthAdjust="spacing" style="stroke-width:0.12px">Impairment</text>
<text transform="translate(515.77,336.6) scale(1,1.06)" font-size="13" text-anchor="middle" textLength="81.52" lengthAdjust="spacing" style="stroke-width:0.12px">CI+Prefrailty</text>
<text transform="translate(613.57,336.6) scale(1,1.06)" font-size="13" text-anchor="middle" textLength="61.68" lengthAdjust="spacing" style="stroke-width:0.12px">Cognitive</text>
<text transform="translate(612.99,350.0) scale(1,1.06)" font-size="13" text-anchor="middle" textLength="39.4" lengthAdjust="spacing" style="stroke-width:0.12px">Frailty</text>
<text x="372.1" y="378.9" font-size="14.6" text-anchor="middle" textLength="335.74" lengthAdjust="spacing">Frailty and Cognitive Impairment Categories</text>
<text x="566.88" y="36.4" font-size="14.5" textLength="58.62" lengthAdjust="spacing">Literacy</text>
<text x="582.92" y="56.5" font-size="13" textLength="37.96" lengthAdjust="spacing">ilitrate</text>
<text x="582.92" y="71.2" font-size="13" textLength="41.25" lengthAdjust="spacing">literate</text>
<text transform="translate(11.0,158.65) rotate(-90) scale(1,1.0)" font-size="14.5" text-anchor="middle" textLength="46.0" lengthAdjust="spacing">Count</text>
</g>
<rect x="569.5" y="46.5" width="10" height="10" fill="#46474a" stroke="#3c3c3f" stroke-width="1"/>
<pattern id="p6" patternUnits="userSpaceOnUse" x="574" y="62" width="9" height="9"><rect width="9" height="9" fill="#fff"/><rect x="0" y="0" width="1" height="1" fill="#1e1e1e"/><rect x="1" y="0" width="1" height="1" fill="#c8c8c8"/><rect x="2" y="0" width="1" height="1" fill="#fcfcfc"/><rect x="3" y="0" width="1" height="1" fill="#5b5b5b"/><rect x="4" y="0" width="1" height="1" fill="#1e1e1e"/><rect x="5" y="0" width="1" height="1" fill="#5b5b5b"/><rect x="6" y="0" width="1" height="1" fill="#fcfcfc"/><rect x="7" y="0" width="1" height="1" fill="#c8c8c8"/><rect x="8" y="0" width="1" height="1" fill="#1e1e1e"/><rect x="0" y="1" width="1" height="1" fill="#c8c8c8"/><rect x="1" y="1" width="1" height="1" fill="#1e1e1e"/><rect x="2" y="1" width="1" height="1" fill="#4b4b4b"/><rect x="3" y="1" width="1" height="1" fill="#5b5b5b"/><rect x="4" y="1" width="1" height="1" fill="#f9f9f9"/><rect x="5" y="1" width="1" height="1" fill="#5b5b5b"/><rect x="6" y="1" width="1" height="1" fill="#4b4b4b"/><rect x="7" y="1" width="1" height="1" fill="#1e1e1e"/><rect x="8" y="1" width="1" height="1" fill="#c8c8c8"/><rect x="0" y="2" width="1" height="1" fill="#fcfcfc"/><rect x="1" y="2" width="1" height="1" fill="#4b4b4b"/><rect x="2" y="2" width="1" height="1" fill="#040404"/><rect x="3" y="2" width="1" height="1" fill="#c5c5c5"/><rect x="5" y="2" width="1" height="1" fill="#c5c5c5"/><rect x="6" y="2" width="1" height="1" fill="#040404"/><rect x="7" y="2" width="1" height="1" fill="#4b4b4b"/><rect x="8" y="2" width="1" height="1" fill="#fcfcfc"/><rect x="0" y="3" width="1" height="1" fill="#5b5b5b"/><rect x="1" y="3" width="1" height="1" fill="#5b5b5b"/><rect x="2" y="3" width="1" height="1" fill="#c5c5c5"/><rect x="3" y="3" width="1" height="1" fill="#1e1e1e"/><rect x="4" y="3" width="1" height="1" fill="#979797"/><rect x="5" y="3" width="1" height="1" fill="#1e1e1e"/><rect x="6" y="3" width="1" height="1" fill="#c5c5c5"/><rect x="7" y="3" width="1" height="1" fill="#5b5b5b"/><rect x="8" y="3" width="1" height="1" fill="#5b5b5b"/><rect x="0" y="4" width="1" height="1" fill="#1e1e1e"/><rect x="1" y="4" width="1" height="1" fill="#f9f9f9"/><rect x="3" y="4" width="1" height="1" fill="#979797"/><rect x="4" y="4" width="1" height="1" fill="#000000"/><rect x="5" y="4" width="1" height="1" fill="#979797"/><rect x="7" y="4" width="1" height="1" fill="#f9f9f9"/><rect x="8" y="4" width="1" height="1" fill="#1e1e1e"/><rect x="0" y="5" width="1" height="1" fill="#5b5b5b"/><rect x="1" y="5" width="1" height="1" fill="#5b5b5b"/><rect x="2" y="5" width="1" height="1" fill="#c5c5c5"/><rect x="3" y="5" width="1" height="1" fill="#1e1e1e"/><rect x="4" y="5" width="1" height="1" fill="#979797"/><rect x="5" y="5" width="1" height="1" fill="#1e1e1e"/><rect x="6" y="5" width="1" height="1" fill="#c5c5c5"/><rect x="7" y="5" width="1" height="1" fill="#5b5b5b"/><rect x="8" y="5" width="1" height="1" fill="#5b5b5b"/><rect x="0" y="6" width="1" height="1" fill="#fcfcfc"/><rect x="1" y="6" width="1" height="1" fill="#4b4b4b"/><rect x="2" y="6" width="1" height="1" fill="#040404"/><rect x="3" y="6" width="1" height="1" fill="#c5c5c5"/><rect x="5" y="6" width="1" height="1" fill="#c5c5c5"/><rect x="6" y="6" width="1" height="1" fill="#040404"/><rect x="7" y="6" width="1" height="1" fill="#4b4b4b"/><rect x="8" y="6" width="1" height="1" fill="#fcfcfc"/><rect x="0" y="7" width="1" height="1" fill="#c8c8c8"/><rect x="1" y="7" width="1" height="1" fill="#1e1e1e"/><rect x="2" y="7" width="1" height="1" fill="#4b4b4b"/><rect x="3" y="7" width="1" height="1" fill="#5b5b5b"/><rect x="4" y="7" width="1" height="1" fill="#f9f9f9"/><rect x="5" y="7" width="1" height="1" fill="#5b5b5b"/><rect x="6" y="7" width="1" height="1" fill="#4b4b4b"/><rect x="7" y="7" width="1" height="1" fill="#1e1e1e"/><rect x="8" y="7" width="1" height="1" fill="#c8c8c8"/><rect x="0" y="8" width="1" height="1" fill="#1e1e1e"/><rect x="1" y="8" width="1" height="1" fill="#c8c8c8"/><rect x="2" y="8" width="1" height="1" fill="#fcfcfc"/><rect x="3" y="8" width="1" height="1" fill="#5b5b5b"/><rect x="4" y="8" width="1" height="1" fill="#1e1e1e"/><rect x="5" y="8" width="1" height="1" fill="#5b5b5b"/><rect x="6" y="8" width="1" height="1" fill="#fcfcfc"/><rect x="7" y="8" width="1" height="1" fill="#c8c8c8"/><rect x="8" y="8" width="1" height="1" fill="#1e1e1e"/></pattern>
<rect x="569.00" y="60.00" width="12.00" height="10.50" fill="url(#p6)"/>
</svg>
</body></html>
